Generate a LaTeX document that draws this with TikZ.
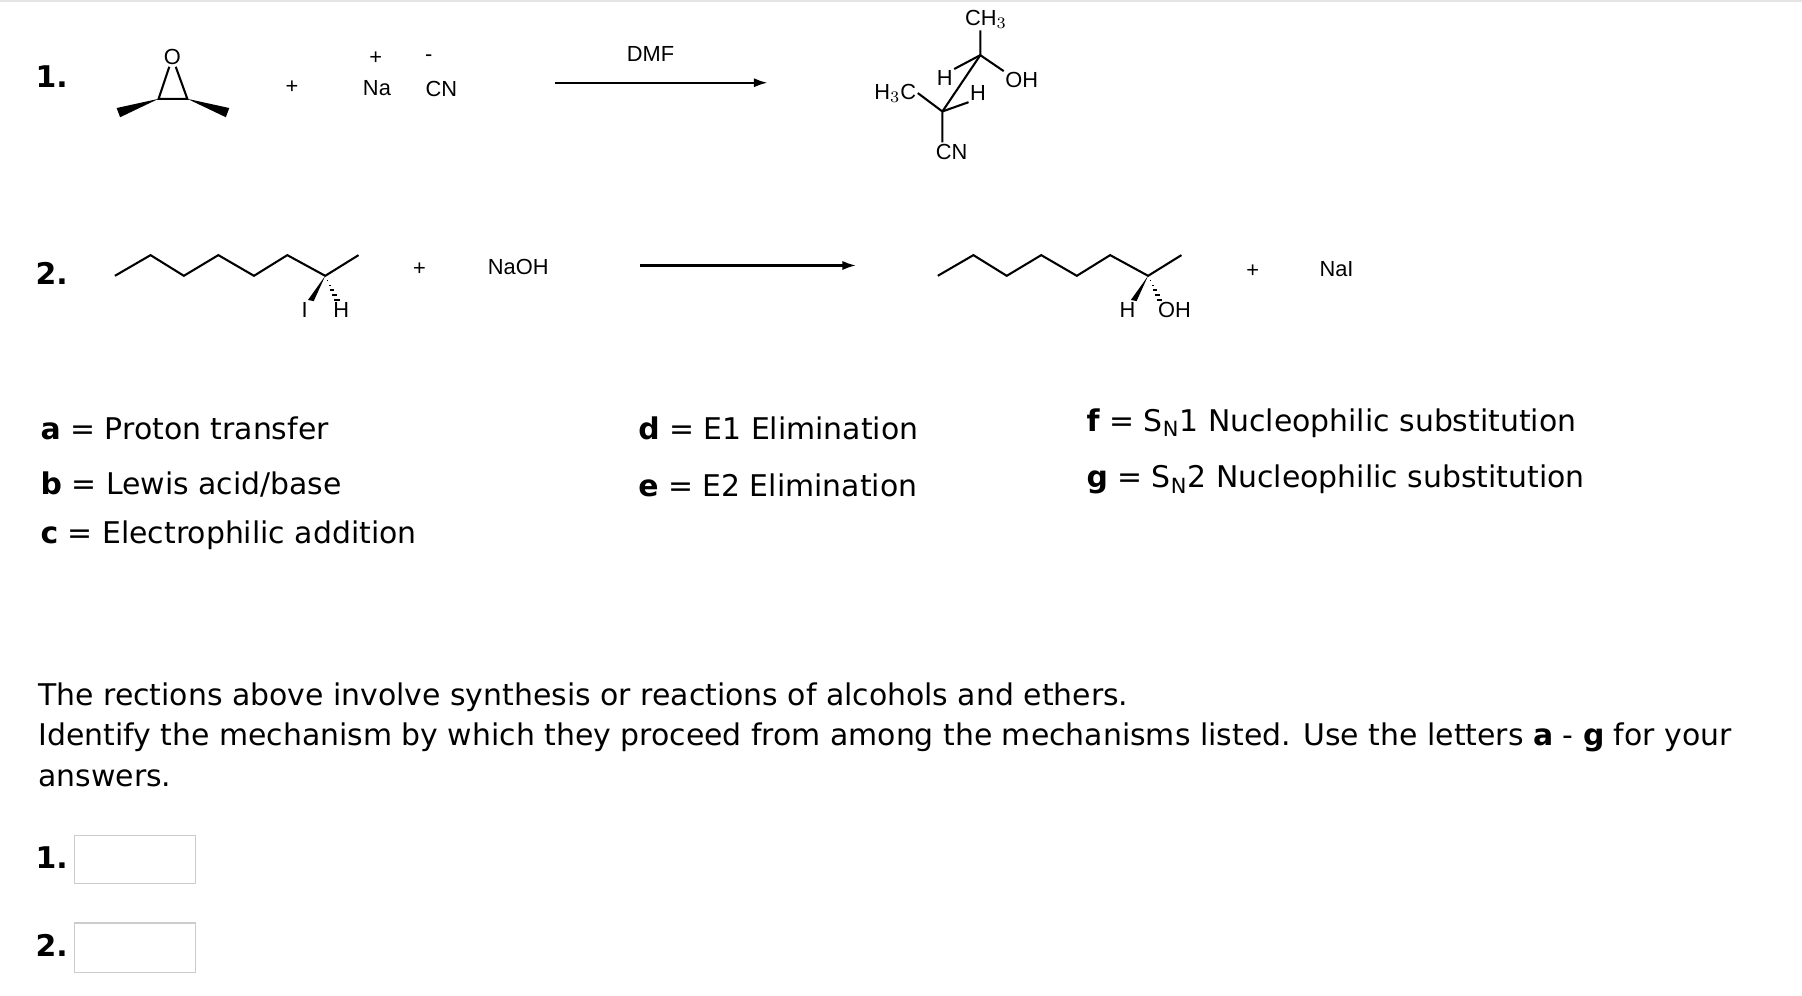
\documentclass[tikz,border=0pt]{standalone}
\usepackage{fontspec}
\setmainfont{DejaVu Sans}
\newfontfamily\chemf{Liberation Sans}
\usetikzlibrary{arrows.meta,calc}
\begin{document}
\begin{tikzpicture}[x=0.5pt,y=-0.5pt,
  chem/.style={font=\chemf\fontsize{9.5}{11}\selectfont,inner sep=0.5pt},
  txt/.style={font=\fontsize{13}{16}\selectfont,anchor=west,inner sep=0pt},
  num/.style={font=\bfseries\fontsize{13}{16}\selectfont,inner sep=0pt},
  bond/.style={line width=0.9pt},
  rarrow/.style={line width=1pt,-{Latex[length=6pt,width=4pt]}},
  ansbox/.style={draw=black!20,line width=0.6pt}]
\useasboundingbox (0,0) rectangle (1568,866);
\fill[white] (0,0) rectangle (1568,866);
\draw[black!10,line width=1pt] (0,1) -- (1568,1);
% ---- reaction 1
\node[num] (n1) at (45,67) {1.};
\node[chem] (O) at (150,50) {O};
\coordinate (c1) at (138,86);
\coordinate (c2) at (163,86);
\draw[bond] (O) -- (c1) -- (c2) -- (O);
\coordinate (w1) at (103,98);
\coordinate (w2) at (198,98);
\fill (c1) -- ($(w1)+(-1.5,-4)$) -- ($(w1)+(1.5,4)$) -- cycle;
\fill (c2) -- ($(w2)+(1.5,-4)$) -- ($(w2)+(-1.5,4)$) -- cycle;
\node[chem] (p1) at (254,76) {+};
\node[chem] (na) at (328,77) {Na};
\node[chem] (cn) at (384,77) {CN};
\node[chem] (nap) at (327,51) {+};
\node[chem] (cnm) at (373,51) {-};
\node[chem] (dmf) at (566,47) {DMF};
\coordinate (a1s) at (483,72); \coordinate (a1e) at (668,72);
\draw[rarrow] (a1s) -- (a1e);
\node[chem] (ch3) at (858,17) {CH$_3$};
\coordinate (ct) at (853,48);
\coordinate (cb) at (820,97);
\node[chem] (oh1) at (889,70) {OH};
\node[chem] (h1) at (822,68) {H};
\node[chem] (h2) at (851,81) {H};
\node[chem] (h3c) at (779,81) {H$_3$C};
\node[chem] (cn2) at (828,132) {CN};
\draw[bond] (ch3.south -| ct) -- (ct) -- (oh1.north west);
\draw[bond] (ct) -- (cb);
\draw[bond] (ct) -- (h1.north east);
\draw[bond] (cb) -- (h2.south west);
\draw[bond] (h3c.east) -- (cb) -- (cn2.north -| cb);
% ---- reaction 2
\node[num] (n2) at (45,238) {2.};
\foreach \s/\nm in {0/r,716/p}{
  \draw[bond] (100+\s,240) -- (131+\s,222) -- (160+\s,240) -- (190+\s,222) -- (221+\s,240) -- (250+\s,222) -- (283+\s,240) -- (312+\s,222);
  \coordinate (\nm st) at (283+\s,240);
}
\node[chem] (iI) at (265,270) {I};
\node[chem] (hH) at (297,270) {H};
\fill (rst) -- (268,261) -- (273,262) -- cycle;
\foreach \t in {0.2,0.4,0.6,0.8,1.0}
  \draw[line width=0.7pt] ($(rst)!\t!(293,261)+(-\t*2.5,0)$) -- ($(rst)!\t!(293,261)+(\t*2.5,0)$);
\node[chem] (p2) at (365,234) {+};
\node[chem] (naoh) at (451,232) {NaOH};
\coordinate (a2s) at (557,231); \coordinate (a2e) at (745,231);
\draw[rarrow] (a2s) -- (a2e);
\node[chem] (hp) at (981,270) {H};
\node[chem] (ohp) at (1022,270) {OH};
\fill (pst) -- (984,261) -- (989,262) -- cycle;
\foreach \t in {0.2,0.4,0.6,0.8,1.0}
  \draw[line width=0.7pt] ($(pst)!\t!(1009,261)+(-\t*2.5,0)$) -- ($(pst)!\t!(1009,261)+(\t*2.5,0)$);
\node[chem] (p3) at (1090,236) {+};
\node[chem] (nai) at (1163,234) {NaI};
% ---- legend
\node[txt] (la) at (35,373) {\textbf{a} = Proton transfer};
\node[txt] (lb) at (35,422) {\textbf{b} = Lewis acid/base};
\node[txt] (lc) at (35,466) {\textbf{c} = Electrophilic addition};
\node[txt] (ld) at (555,373) {\textbf{d} = E1 Elimination};
\node[txt] (le) at (555,422) {\textbf{e} = E2 Elimination};
\node[txt] (lf) at (945,368) {\textbf{f} = S\textsubscript{N}1 Nucleophilic substitution};
\node[txt] (lg) at (945,417) {\textbf{g} = S\textsubscript{N}2 Nucleophilic substitution};
\node[txt] (q1) at (33,607) {The rections above involve synthesis or reactions of alcohols and ethers.};
\node[txt] (q2) at (33,642) {Identify the mechanism by which they proceed from among the mechanisms listed. Use the letters \textbf{a} - \textbf{g} for your};
\node[txt] (q3) at (33,677) {answers.};
\node[num] (b1l) at (45,746) {1.};
\draw[ansbox] (65,727) rectangle (170,769);
\node[num] (b2l) at (45,823) {2.};
\draw[ansbox] (65,803) rectangle (170,846);
\end{tikzpicture}
\end{document}
